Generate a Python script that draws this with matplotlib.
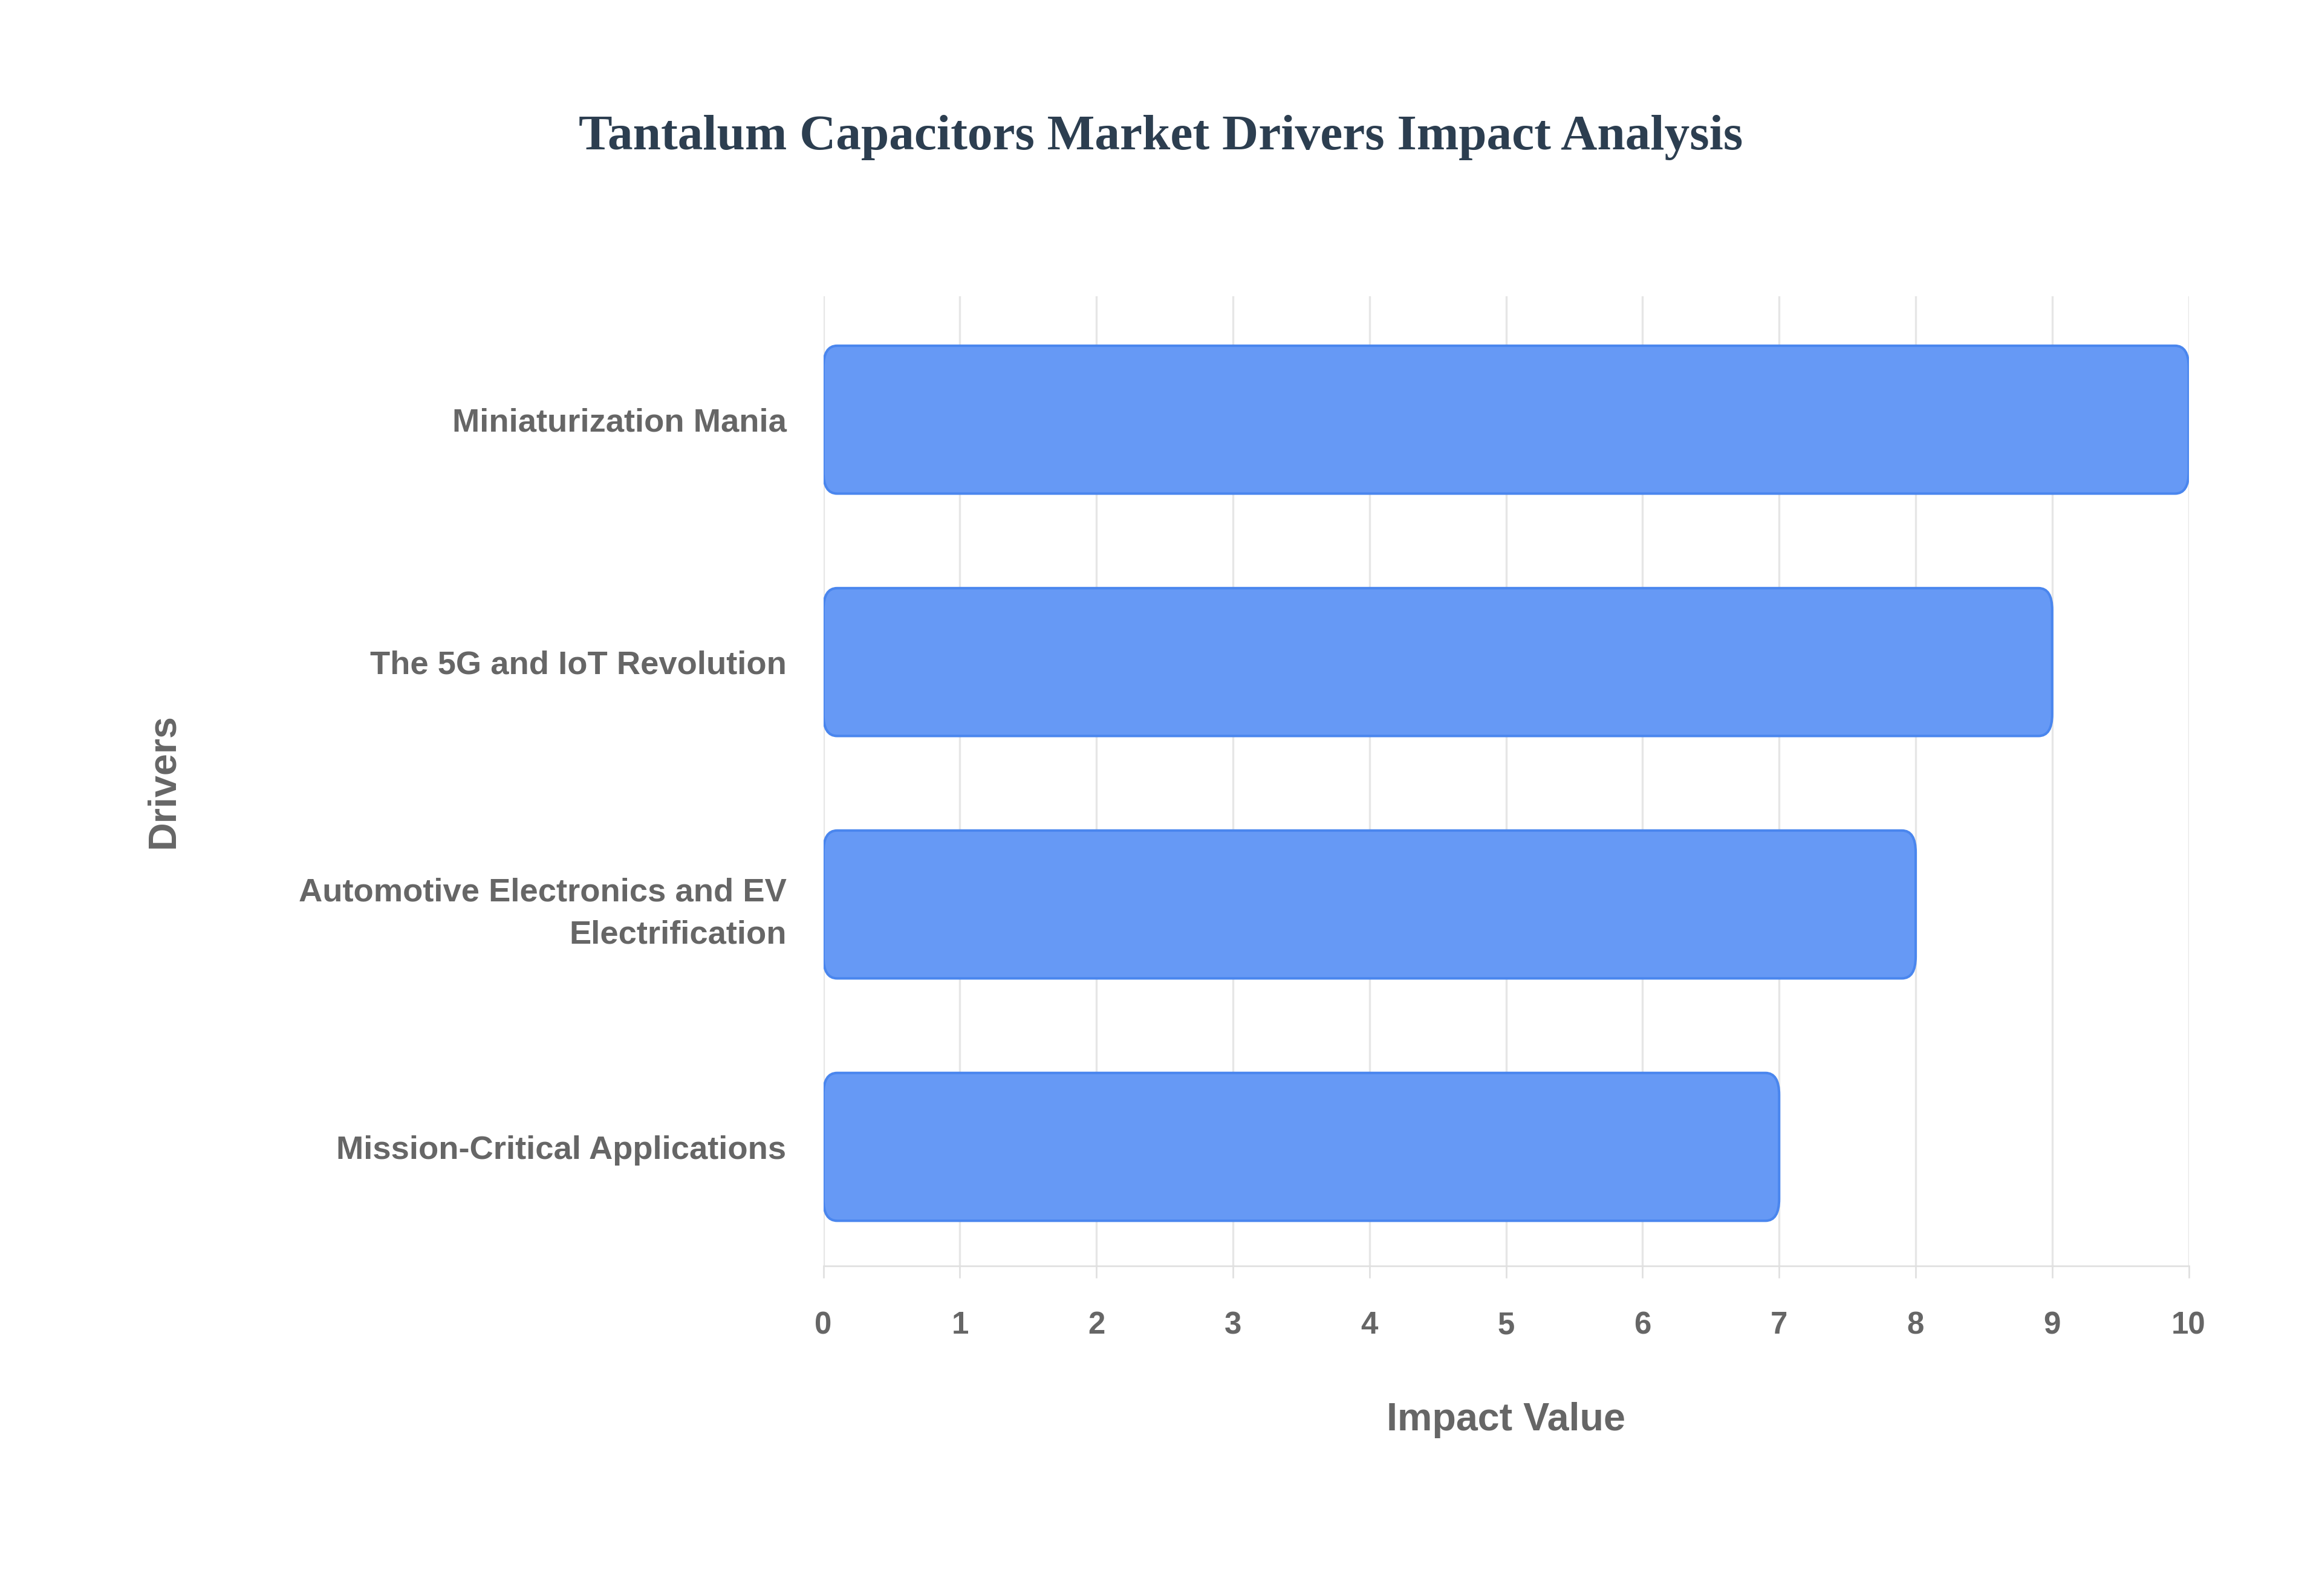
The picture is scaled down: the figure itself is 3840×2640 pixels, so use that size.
import matplotlib
matplotlib.use("Agg")
import matplotlib.pyplot as plt
from matplotlib.patches import FancyBboxPatch

drivers = ["Miniaturization Mania", "The 5G and IoT Revolution",
           "Automotive Electronics and EV\nElectrification", "Mission-Critical Applications"]
values = [10, 9, 8, 7]

fig = plt.figure(figsize=(15.68, 10.78), dpi=244.9)
ax = fig.add_axes([0.3546, 0.207, 0.588, 0.6075])
ys = list(range(len(drivers)))[::-1]
bars = ax.barh(ys, values, height=0.61, color="none")
for b in bars:
    x, y, w, h = b.get_x(), b.get_y(), b.get_width(), b.get_height()
    ax.add_patch(FancyBboxPatch((x, y), w, h, boxstyle="round,pad=0,rounding_size=0.1",
                                mutation_aspect=0.9, facecolor="#6699F5", edgecolor="#4A86EE",
                                linewidth=1.2, zorder=3))
ax.set_xlim(0, 10)
ax.set_ylim(-0.49, 3.51)
ax.set_yticks(ys)
ax.set_yticklabels(drivers, ha="right", multialignment="right", linespacing=1.5)
ax.set_xticks(range(11))
ax.grid(axis="x", color="#e6e6e6", linewidth=1, zorder=0)
for s in ["top", "right", "left"]:
    ax.spines[s].set_visible(False)
ax.spines["bottom"].set_color("#e0e0e0")
ax.tick_params(axis="y", length=0, pad=18, labelsize=16, labelcolor="#666666")
ax.tick_params(axis="x", length=6, color="#e0e0e0", pad=16, labelsize=15, labelcolor="#666666")
for t in ax.get_xticklabels() + ax.get_yticklabels():
    t.set_fontfamily("Liberation Sans"); t.set_fontweight("bold")
ax.set_xlabel("Impact Value", fontsize=19, fontweight="bold", color="#666666",
              family="Liberation Sans", labelpad=30)
ax.set_ylabel("Drivers", fontsize=19, fontweight="bold", color="#666666",
              family="Liberation Sans")
ax.yaxis.set_label_coords(-0.47, 0.5)
fig.text(0.5, 0.914, "Tantalum Capacitors Market Drivers Impact Analysis",
         ha="center", va="center", fontsize=24.5, fontweight="bold",
         family="Liberation Serif", color="#2C3E50")
fig.savefig("out.png", dpi=244.9)
